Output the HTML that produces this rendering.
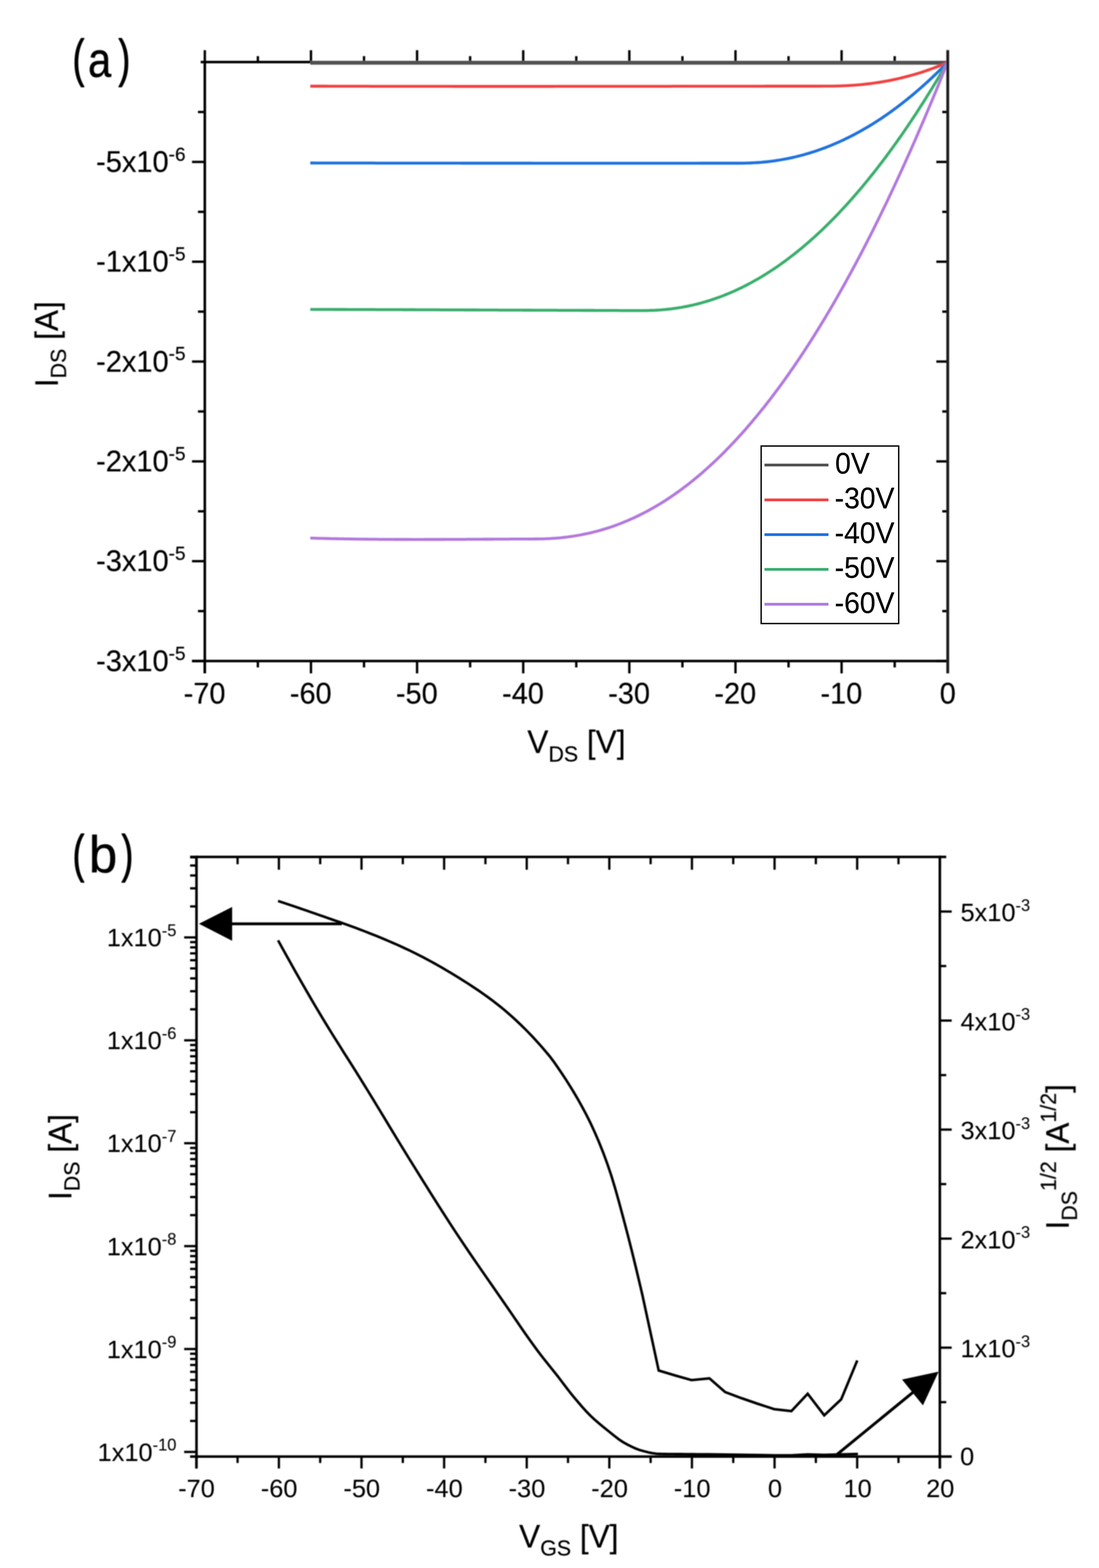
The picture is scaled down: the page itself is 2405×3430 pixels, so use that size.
<!DOCTYPE html>
<html lang="en">
<head>
<meta charset="utf-8">
<title>Output and transfer characteristics</title>
<style>
html,body{margin:0;padding:0;background:#fff;}
body{width:2405px;height:3430px;overflow:hidden;}
svg{display:block;font-family:"Liberation Sans", sans-serif;fill:#000;}
text{stroke:#000;stroke-width:0.4px;stroke-linejoin:round;}
.lt{stroke-width:0.15px;}
</style>
</head>
<body>
<svg width="2405" height="3430" viewBox="0 0 2405 3430">
<defs><filter id="soft" x="0" y="0" width="2405" height="3430" filterUnits="userSpaceOnUse"><feGaussianBlur stdDeviation="1.0"/></filter></defs>
<rect x="0" y="0" width="2405" height="3430" fill="#ffffff"/>
<g filter="url(#soft)">
<g id="plot-a">
<line x1="448.2" y1="133.0" x2="448.2" y2="1473.0" stroke="#000" stroke-width="5.6" stroke-linecap="butt"/>
<line x1="439.2" y1="135.8" x2="2076.8" y2="135.8" stroke="#000" stroke-width="5.6" stroke-linecap="butt"/>
<line x1="420.2" y1="1446.0" x2="2076.8" y2="1446.0" stroke="#000" stroke-width="5.6" stroke-linecap="butt"/>
<line x1="448.2" y1="1446.0" x2="448.2" y2="1473.0" stroke="#000" stroke-width="5.2" stroke-linecap="butt"/>
<line x1="448.2" y1="135.8" x2="448.2" y2="109.8" stroke="#000" stroke-width="5.2" stroke-linecap="butt"/>
<line x1="564.3" y1="1446.0" x2="564.3" y2="1460.0" stroke="#000" stroke-width="5.2" stroke-linecap="butt"/>
<line x1="564.3" y1="135.8" x2="564.3" y2="122.8" stroke="#000" stroke-width="5.2" stroke-linecap="butt"/>
<line x1="680.5" y1="1446.0" x2="680.5" y2="1473.0" stroke="#000" stroke-width="5.2" stroke-linecap="butt"/>
<line x1="680.5" y1="135.8" x2="680.5" y2="109.8" stroke="#000" stroke-width="5.2" stroke-linecap="butt"/>
<line x1="796.6" y1="1446.0" x2="796.6" y2="1460.0" stroke="#000" stroke-width="5.2" stroke-linecap="butt"/>
<line x1="796.6" y1="135.8" x2="796.6" y2="122.8" stroke="#000" stroke-width="5.2" stroke-linecap="butt"/>
<line x1="912.7" y1="1446.0" x2="912.7" y2="1473.0" stroke="#000" stroke-width="5.2" stroke-linecap="butt"/>
<line x1="912.7" y1="135.8" x2="912.7" y2="109.8" stroke="#000" stroke-width="5.2" stroke-linecap="butt"/>
<line x1="1028.8" y1="1446.0" x2="1028.8" y2="1460.0" stroke="#000" stroke-width="5.2" stroke-linecap="butt"/>
<line x1="1028.8" y1="135.8" x2="1028.8" y2="122.8" stroke="#000" stroke-width="5.2" stroke-linecap="butt"/>
<line x1="1145.0" y1="1446.0" x2="1145.0" y2="1473.0" stroke="#000" stroke-width="5.2" stroke-linecap="butt"/>
<line x1="1145.0" y1="135.8" x2="1145.0" y2="109.8" stroke="#000" stroke-width="5.2" stroke-linecap="butt"/>
<line x1="1261.1" y1="1446.0" x2="1261.1" y2="1460.0" stroke="#000" stroke-width="5.2" stroke-linecap="butt"/>
<line x1="1261.1" y1="135.8" x2="1261.1" y2="122.8" stroke="#000" stroke-width="5.2" stroke-linecap="butt"/>
<line x1="1377.2" y1="1446.0" x2="1377.2" y2="1473.0" stroke="#000" stroke-width="5.2" stroke-linecap="butt"/>
<line x1="1377.2" y1="135.8" x2="1377.2" y2="109.8" stroke="#000" stroke-width="5.2" stroke-linecap="butt"/>
<line x1="1493.4" y1="1446.0" x2="1493.4" y2="1460.0" stroke="#000" stroke-width="5.2" stroke-linecap="butt"/>
<line x1="1493.4" y1="135.8" x2="1493.4" y2="122.8" stroke="#000" stroke-width="5.2" stroke-linecap="butt"/>
<line x1="1609.5" y1="1446.0" x2="1609.5" y2="1473.0" stroke="#000" stroke-width="5.2" stroke-linecap="butt"/>
<line x1="1609.5" y1="135.8" x2="1609.5" y2="109.8" stroke="#000" stroke-width="5.2" stroke-linecap="butt"/>
<line x1="1725.6" y1="1446.0" x2="1725.6" y2="1460.0" stroke="#000" stroke-width="5.2" stroke-linecap="butt"/>
<line x1="1725.6" y1="135.8" x2="1725.6" y2="122.8" stroke="#000" stroke-width="5.2" stroke-linecap="butt"/>
<line x1="1841.7" y1="1446.0" x2="1841.7" y2="1473.0" stroke="#000" stroke-width="5.2" stroke-linecap="butt"/>
<line x1="1841.7" y1="135.8" x2="1841.7" y2="109.8" stroke="#000" stroke-width="5.2" stroke-linecap="butt"/>
<line x1="1957.9" y1="1446.0" x2="1957.9" y2="1460.0" stroke="#000" stroke-width="5.2" stroke-linecap="butt"/>
<line x1="1957.9" y1="135.8" x2="1957.9" y2="122.8" stroke="#000" stroke-width="5.2" stroke-linecap="butt"/>
<line x1="2074.0" y1="1446.0" x2="2074.0" y2="1473.0" stroke="#000" stroke-width="5.2" stroke-linecap="butt"/>
<line x1="2074.0" y1="135.8" x2="2074.0" y2="109.8" stroke="#000" stroke-width="5.2" stroke-linecap="butt"/>
<line x1="448.2" y1="245.0" x2="433.2" y2="245.0" stroke="#000" stroke-width="5.2" stroke-linecap="butt"/>
<line x1="2074.0" y1="245.0" x2="2062.0" y2="245.0" stroke="#000" stroke-width="5.2" stroke-linecap="butt"/>
<line x1="448.2" y1="354.2" x2="420.2" y2="354.2" stroke="#000" stroke-width="5.2" stroke-linecap="butt"/>
<line x1="2074.0" y1="354.2" x2="2049.0" y2="354.2" stroke="#000" stroke-width="5.2" stroke-linecap="butt"/>
<line x1="448.2" y1="463.4" x2="433.2" y2="463.4" stroke="#000" stroke-width="5.2" stroke-linecap="butt"/>
<line x1="2074.0" y1="463.4" x2="2062.0" y2="463.4" stroke="#000" stroke-width="5.2" stroke-linecap="butt"/>
<line x1="448.2" y1="572.5" x2="420.2" y2="572.5" stroke="#000" stroke-width="5.2" stroke-linecap="butt"/>
<line x1="2074.0" y1="572.5" x2="2049.0" y2="572.5" stroke="#000" stroke-width="5.2" stroke-linecap="butt"/>
<line x1="448.2" y1="681.7" x2="433.2" y2="681.7" stroke="#000" stroke-width="5.2" stroke-linecap="butt"/>
<line x1="2074.0" y1="681.7" x2="2062.0" y2="681.7" stroke="#000" stroke-width="5.2" stroke-linecap="butt"/>
<line x1="448.2" y1="790.9" x2="420.2" y2="790.9" stroke="#000" stroke-width="5.2" stroke-linecap="butt"/>
<line x1="2074.0" y1="790.9" x2="2049.0" y2="790.9" stroke="#000" stroke-width="5.2" stroke-linecap="butt"/>
<line x1="448.2" y1="900.1" x2="433.2" y2="900.1" stroke="#000" stroke-width="5.2" stroke-linecap="butt"/>
<line x1="2074.0" y1="900.1" x2="2062.0" y2="900.1" stroke="#000" stroke-width="5.2" stroke-linecap="butt"/>
<line x1="448.2" y1="1009.3" x2="420.2" y2="1009.3" stroke="#000" stroke-width="5.2" stroke-linecap="butt"/>
<line x1="2074.0" y1="1009.3" x2="2049.0" y2="1009.3" stroke="#000" stroke-width="5.2" stroke-linecap="butt"/>
<line x1="448.2" y1="1118.5" x2="433.2" y2="1118.5" stroke="#000" stroke-width="5.2" stroke-linecap="butt"/>
<line x1="2074.0" y1="1118.5" x2="2062.0" y2="1118.5" stroke="#000" stroke-width="5.2" stroke-linecap="butt"/>
<line x1="448.2" y1="1227.6" x2="420.2" y2="1227.6" stroke="#000" stroke-width="5.2" stroke-linecap="butt"/>
<line x1="2074.0" y1="1227.6" x2="2049.0" y2="1227.6" stroke="#000" stroke-width="5.2" stroke-linecap="butt"/>
<line x1="448.2" y1="1336.8" x2="433.2" y2="1336.8" stroke="#000" stroke-width="5.2" stroke-linecap="butt"/>
<line x1="2074.0" y1="1336.8" x2="2062.0" y2="1336.8" stroke="#000" stroke-width="5.2" stroke-linecap="butt"/>
<line x1="448.2" y1="1446.0" x2="420.2" y2="1446.0" stroke="#000" stroke-width="5.2" stroke-linecap="butt"/>
<line x1="2074.0" y1="1446.0" x2="2049.0" y2="1446.0" stroke="#000" stroke-width="5.2" stroke-linecap="butt"/>
<path d="M679.0,137.2 L2074.0,137.2" fill="none" stroke="#515151" stroke-width="8.4" stroke-linejoin="round" stroke-linecap="butt"/>
<path d="M679.0,188.5 L684.8,188.5 L690.7,188.5 L696.5,188.5 L702.3,188.5 L708.2,188.5 L714.0,188.5 L719.9,188.6 L725.7,188.6 L731.5,188.6 L737.4,188.6 L743.2,188.6 L749.0,188.6 L754.9,188.6 L760.7,188.7 L766.6,188.7 L772.4,188.7 L778.2,188.7 L784.1,188.7 L789.9,188.7 L795.7,188.7 L801.6,188.7 L807.4,188.7 L813.2,188.8 L819.1,188.8 L824.9,188.8 L830.8,188.8 L836.6,188.8 L842.4,188.8 L848.3,188.8 L854.1,188.8 L859.9,188.8 L865.8,188.8 L871.6,188.8 L877.5,188.8 L883.3,188.9 L889.1,188.9 L895.0,188.9 L900.8,188.9 L906.6,188.9 L912.5,188.9 L918.3,188.9 L924.1,188.9 L930.0,188.9 L935.8,188.9 L941.7,188.9 L947.5,188.9 L953.3,188.9 L959.2,188.9 L965.0,188.9 L970.8,188.9 L976.7,188.9 L982.5,188.9 L988.4,188.9 L994.2,189.0 L1000.0,189.0 L1005.9,189.0 L1011.7,189.0 L1017.5,189.0 L1023.4,189.0 L1029.2,189.0 L1035.0,189.0 L1040.9,189.0 L1046.7,189.0 L1052.6,189.0 L1058.4,189.0 L1064.2,189.0 L1070.1,189.0 L1075.9,189.0 L1081.7,189.0 L1087.6,189.0 L1093.4,189.0 L1099.3,189.0 L1105.1,189.0 L1110.9,189.0 L1116.8,189.0 L1122.6,189.0 L1128.4,189.0 L1134.3,189.0 L1140.1,189.0 L1145.9,189.0 L1151.8,189.0 L1157.6,189.0 L1163.5,189.0 L1169.3,189.0 L1175.1,189.0 L1181.0,189.0 L1186.8,189.0 L1192.6,189.0 L1198.5,189.0 L1204.3,189.0 L1210.2,189.0 L1216.0,188.9 L1221.8,188.9 L1227.7,188.9 L1233.5,188.9 L1239.3,188.9 L1245.2,188.9 L1251.0,188.9 L1256.8,188.9 L1262.7,188.9 L1268.5,188.9 L1274.4,188.9 L1280.2,188.9 L1286.0,188.9 L1291.9,188.9 L1297.7,188.9 L1303.5,188.9 L1309.4,188.9 L1315.2,188.9 L1321.1,188.9 L1326.9,188.9 L1332.7,188.9 L1338.6,188.9 L1344.4,188.9 L1350.2,188.9 L1356.1,188.9 L1361.9,188.8 L1367.7,188.8 L1373.6,188.8 L1379.4,188.8 L1385.3,188.8 L1391.1,188.8 L1396.9,188.8 L1402.8,188.8 L1408.6,188.8 L1414.4,188.8 L1420.3,188.8 L1426.1,188.8 L1431.9,188.8 L1437.8,188.8 L1443.6,188.8 L1449.5,188.8 L1455.3,188.8 L1461.1,188.8 L1467.0,188.8 L1472.8,188.7 L1478.6,188.7 L1484.5,188.7 L1490.3,188.7 L1496.2,188.7 L1502.0,188.7 L1507.8,188.7 L1513.7,188.7 L1519.5,188.7 L1525.3,188.7 L1531.2,188.7 L1537.0,188.7 L1542.8,188.7 L1548.7,188.7 L1554.5,188.7 L1560.4,188.7 L1566.2,188.7 L1572.0,188.6 L1577.9,188.6 L1583.7,188.6 L1589.5,188.6 L1595.4,188.6 L1601.2,188.6 L1607.1,188.6 L1612.9,188.6 L1618.7,188.6 L1624.6,188.6 L1630.4,188.6 L1636.2,188.6 L1642.1,188.6 L1647.9,188.6 L1653.7,188.6 L1659.6,188.6 L1665.4,188.6 L1671.3,188.6 L1677.1,188.5 L1682.9,188.5 L1688.8,188.5 L1694.6,188.5 L1700.4,188.5 L1706.3,188.5 L1712.1,188.5 L1718.0,188.5 L1723.8,188.5 L1729.6,188.5 L1735.5,188.5 L1741.3,188.5 L1747.1,188.5 L1753.0,188.5 L1758.8,188.5 L1764.6,188.5 L1770.5,188.5 L1776.3,188.5 L1782.2,188.5 L1788.0,188.5 L1793.8,188.5 L1799.7,188.4 L1805.5,188.4 L1811.3,188.4 L1817.2,188.4 L1823.0,188.3 L1828.9,188.2 L1834.7,188.1 L1840.5,187.9 L1846.4,187.6 L1852.2,187.4 L1858.0,187.1 L1863.9,186.7 L1869.7,186.3 L1875.5,185.8 L1881.4,185.3 L1887.2,184.8 L1893.1,184.2 L1898.9,183.5 L1904.7,182.8 L1910.6,182.0 L1916.4,181.2 L1922.2,180.3 L1928.1,179.4 L1933.9,178.4 L1939.8,177.4 L1945.6,176.3 L1951.4,175.1 L1957.3,173.9 L1963.1,172.6 L1968.9,171.3 L1974.8,169.9 L1980.6,168.4 L1986.4,166.9 L1992.3,165.3 L1998.1,163.7 L2004.0,162.0 L2009.8,160.2 L2015.6,158.4 L2021.5,156.5 L2027.3,154.5 L2033.1,152.5 L2039.0,150.4 L2044.8,148.3 L2050.7,146.0 L2056.5,143.8 L2062.3,141.4 L2068.2,139.0 L2074.0,136.5" fill="none" stroke="#F14040" stroke-width="6.3" stroke-linejoin="round" stroke-linecap="butt"/>
<path d="M679.0,356.5 L684.8,356.5 L690.7,356.6 L696.5,356.6 L702.3,356.6 L708.2,356.6 L714.0,356.6 L719.9,356.6 L725.7,356.6 L731.5,356.6 L737.4,356.6 L743.2,356.6 L749.0,356.6 L754.9,356.7 L760.7,356.7 L766.6,356.7 L772.4,356.7 L778.2,356.7 L784.1,356.7 L789.9,356.7 L795.7,356.7 L801.6,356.7 L807.4,356.7 L813.2,356.7 L819.1,356.7 L824.9,356.8 L830.8,356.8 L836.6,356.8 L842.4,356.8 L848.3,356.8 L854.1,356.8 L859.9,356.8 L865.8,356.8 L871.6,356.8 L877.5,356.8 L883.3,356.8 L889.1,356.8 L895.0,356.8 L900.8,356.8 L906.6,356.9 L912.5,356.9 L918.3,356.9 L924.1,356.9 L930.0,356.9 L935.8,356.9 L941.7,356.9 L947.5,356.9 L953.3,356.9 L959.2,356.9 L965.0,356.9 L970.8,356.9 L976.7,356.9 L982.5,356.9 L988.4,356.9 L994.2,356.9 L1000.0,356.9 L1005.9,356.9 L1011.7,357.0 L1017.5,357.0 L1023.4,357.0 L1029.2,357.0 L1035.0,357.0 L1040.9,357.0 L1046.7,357.0 L1052.6,357.0 L1058.4,357.0 L1064.2,357.0 L1070.1,357.0 L1075.9,357.0 L1081.7,357.0 L1087.6,357.0 L1093.4,357.0 L1099.3,357.0 L1105.1,357.0 L1110.9,357.0 L1116.8,357.0 L1122.6,357.0 L1128.4,357.0 L1134.3,357.0 L1140.1,357.0 L1145.9,357.0 L1151.8,357.0 L1157.6,357.0 L1163.5,357.0 L1169.3,357.1 L1175.1,357.1 L1181.0,357.1 L1186.8,357.1 L1192.6,357.1 L1198.5,357.1 L1204.3,357.1 L1210.2,357.1 L1216.0,357.1 L1221.8,357.1 L1227.7,357.1 L1233.5,357.1 L1239.3,357.1 L1245.2,357.1 L1251.0,357.1 L1256.8,357.1 L1262.7,357.1 L1268.5,357.1 L1274.4,357.1 L1280.2,357.1 L1286.0,357.1 L1291.9,357.1 L1297.7,357.1 L1303.5,357.1 L1309.4,357.1 L1315.2,357.1 L1321.1,357.1 L1326.9,357.1 L1332.7,357.1 L1338.6,357.1 L1344.4,357.1 L1350.2,357.1 L1356.1,357.1 L1361.9,357.1 L1367.7,357.1 L1373.6,357.1 L1379.4,357.1 L1385.3,357.1 L1391.1,357.1 L1396.9,357.1 L1402.8,357.1 L1408.6,357.1 L1414.4,357.1 L1420.3,357.1 L1426.1,357.1 L1431.9,357.1 L1437.8,357.1 L1443.6,357.1 L1449.5,357.1 L1455.3,357.1 L1461.1,357.1 L1467.0,357.1 L1472.8,357.1 L1478.6,357.1 L1484.5,357.1 L1490.3,357.1 L1496.2,357.1 L1502.0,357.1 L1507.8,357.1 L1513.7,357.1 L1519.5,357.1 L1525.3,357.1 L1531.2,357.0 L1537.0,357.0 L1542.8,357.0 L1548.7,357.0 L1554.5,357.0 L1560.4,357.0 L1566.2,357.0 L1572.0,357.0 L1577.9,357.0 L1583.7,357.0 L1589.5,357.0 L1595.4,357.0 L1601.2,357.0 L1607.1,357.0 L1612.9,357.0 L1618.7,357.0 L1624.6,357.0 L1630.4,356.9 L1636.2,356.7 L1642.1,356.5 L1647.9,356.2 L1653.7,355.9 L1659.6,355.5 L1665.4,355.1 L1671.3,354.5 L1677.1,354.0 L1682.9,353.3 L1688.8,352.6 L1694.6,351.8 L1700.4,350.9 L1706.3,350.0 L1712.1,349.0 L1718.0,347.9 L1723.8,346.8 L1729.6,345.6 L1735.5,344.3 L1741.3,343.0 L1747.1,341.5 L1753.0,340.0 L1758.8,338.5 L1764.6,336.8 L1770.5,335.1 L1776.3,333.3 L1782.2,331.4 L1788.0,329.5 L1793.8,327.4 L1799.7,325.3 L1805.5,323.2 L1811.3,320.9 L1817.2,318.6 L1823.0,316.2 L1828.9,313.7 L1834.7,311.1 L1840.5,308.5 L1846.4,305.8 L1852.2,302.9 L1858.0,300.1 L1863.9,297.1 L1869.7,294.1 L1875.5,291.0 L1881.4,287.8 L1887.2,284.5 L1893.1,281.1 L1898.9,277.7 L1904.7,274.2 L1910.6,270.6 L1916.4,266.9 L1922.2,263.1 L1928.1,259.3 L1933.9,255.3 L1939.8,251.3 L1945.6,247.2 L1951.4,243.1 L1957.3,238.8 L1963.1,234.5 L1968.9,230.0 L1974.8,225.5 L1980.6,220.9 L1986.4,216.3 L1992.3,211.5 L1998.1,206.7 L2004.0,201.7 L2009.8,196.7 L2015.6,191.6 L2021.5,186.5 L2027.3,181.2 L2033.1,175.9 L2039.0,170.4 L2044.8,164.9 L2050.7,159.3 L2056.5,153.6 L2062.3,147.8 L2068.2,142.0 L2074.0,136.5" fill="none" stroke="#1A6FDF" stroke-width="6.3" stroke-linejoin="round" stroke-linecap="butt"/>
<path d="M679.0,676.8 L684.8,676.8 L690.7,676.9 L696.5,676.9 L702.3,676.9 L708.2,676.9 L714.0,676.9 L719.9,676.9 L725.7,676.9 L731.5,677.0 L737.4,677.0 L743.2,677.0 L749.0,677.0 L754.9,677.0 L760.7,677.1 L766.6,677.1 L772.4,677.1 L778.2,677.1 L784.1,677.1 L789.9,677.1 L795.7,677.2 L801.6,677.2 L807.4,677.2 L813.2,677.2 L819.1,677.2 L824.9,677.3 L830.8,677.3 L836.6,677.3 L842.4,677.3 L848.3,677.3 L854.1,677.4 L859.9,677.4 L865.8,677.4 L871.6,677.4 L877.5,677.4 L883.3,677.5 L889.1,677.5 L895.0,677.5 L900.8,677.5 L906.6,677.5 L912.5,677.6 L918.3,677.6 L924.1,677.6 L930.0,677.6 L935.8,677.6 L941.7,677.7 L947.5,677.7 L953.3,677.7 L959.2,677.7 L965.0,677.8 L970.8,677.8 L976.7,677.8 L982.5,677.8 L988.4,677.8 L994.2,677.9 L1000.0,677.9 L1005.9,677.9 L1011.7,677.9 L1017.5,678.0 L1023.4,678.0 L1029.2,678.0 L1035.0,678.0 L1040.9,678.0 L1046.7,678.1 L1052.6,678.1 L1058.4,678.1 L1064.2,678.1 L1070.1,678.2 L1075.9,678.2 L1081.7,678.2 L1087.6,678.2 L1093.4,678.3 L1099.3,678.3 L1105.1,678.3 L1110.9,678.3 L1116.8,678.3 L1122.6,678.4 L1128.4,678.4 L1134.3,678.4 L1140.1,678.4 L1145.9,678.5 L1151.8,678.5 L1157.6,678.5 L1163.5,678.5 L1169.3,678.6 L1175.1,678.6 L1181.0,678.6 L1186.8,678.6 L1192.6,678.6 L1198.5,678.7 L1204.3,678.7 L1210.2,678.7 L1216.0,678.7 L1221.8,678.8 L1227.7,678.8 L1233.5,678.8 L1239.3,678.8 L1245.2,678.8 L1251.0,678.9 L1256.8,678.9 L1262.7,678.9 L1268.5,678.9 L1274.4,679.0 L1280.2,679.0 L1286.0,679.0 L1291.9,679.0 L1297.7,679.0 L1303.5,679.1 L1309.4,679.1 L1315.2,679.1 L1321.1,679.1 L1326.9,679.2 L1332.7,679.2 L1338.6,679.2 L1344.4,679.2 L1350.2,679.2 L1356.1,679.3 L1361.9,679.3 L1367.7,679.3 L1373.6,679.3 L1379.4,679.3 L1385.3,679.4 L1391.1,679.4 L1396.9,679.4 L1402.8,679.4 L1408.6,679.4 L1414.4,679.3 L1420.3,679.2 L1426.1,679.0 L1431.9,678.8 L1437.8,678.5 L1443.6,678.1 L1449.5,677.6 L1455.3,677.1 L1461.1,676.5 L1467.0,675.9 L1472.8,675.1 L1478.6,674.3 L1484.5,673.4 L1490.3,672.5 L1496.2,671.4 L1502.0,670.3 L1507.8,669.1 L1513.7,667.8 L1519.5,666.5 L1525.3,665.1 L1531.2,663.6 L1537.0,662.0 L1542.8,660.3 L1548.7,658.6 L1554.5,656.7 L1560.4,654.8 L1566.2,652.8 L1572.0,650.8 L1577.9,648.6 L1583.7,646.4 L1589.5,644.0 L1595.4,641.6 L1601.2,639.1 L1607.1,636.6 L1612.9,633.9 L1618.7,631.1 L1624.6,628.3 L1630.4,625.4 L1636.2,622.4 L1642.1,619.3 L1647.9,616.1 L1653.7,612.8 L1659.6,609.5 L1665.4,606.1 L1671.3,602.5 L1677.1,598.9 L1682.9,595.2 L1688.8,591.4 L1694.6,587.5 L1700.4,583.6 L1706.3,579.5 L1712.1,575.3 L1718.0,571.1 L1723.8,566.8 L1729.6,562.3 L1735.5,557.8 L1741.3,553.2 L1747.1,548.5 L1753.0,543.8 L1758.8,538.9 L1764.6,533.9 L1770.5,528.9 L1776.3,523.7 L1782.2,518.5 L1788.0,513.1 L1793.8,507.7 L1799.7,502.2 L1805.5,496.6 L1811.3,490.9 L1817.2,485.1 L1823.0,479.2 L1828.9,473.2 L1834.7,467.1 L1840.5,460.9 L1846.4,454.7 L1852.2,448.3 L1858.0,441.9 L1863.9,435.3 L1869.7,428.7 L1875.5,421.9 L1881.4,415.1 L1887.2,408.2 L1893.1,401.1 L1898.9,394.0 L1904.7,386.8 L1910.6,379.5 L1916.4,372.1 L1922.2,364.6 L1928.1,357.0 L1933.9,349.3 L1939.8,341.5 L1945.6,333.6 L1951.4,325.6 L1957.3,317.5 L1963.1,309.4 L1968.9,301.1 L1974.8,292.7 L1980.6,284.2 L1986.4,275.7 L1992.3,267.0 L1998.1,258.2 L2004.0,249.4 L2009.8,240.4 L2015.6,231.3 L2021.5,222.2 L2027.3,212.9 L2033.1,203.6 L2039.0,194.1 L2044.8,184.6 L2050.7,174.9 L2056.5,165.2 L2062.3,155.3 L2068.2,145.4 L2074.0,136.5" fill="none" stroke="#37AD6B" stroke-width="6.3" stroke-linejoin="round" stroke-linecap="butt"/>
<path d="M679.0,1177.1 L684.8,1177.2 L690.7,1177.4 L696.5,1177.6 L702.3,1177.7 L708.2,1177.9 L714.0,1178.0 L719.9,1178.1 L725.7,1178.3 L731.5,1178.4 L737.4,1178.5 L743.2,1178.6 L749.0,1178.7 L754.9,1178.8 L760.7,1178.9 L766.6,1179.0 L772.4,1179.1 L778.2,1179.2 L784.1,1179.3 L789.9,1179.4 L795.7,1179.4 L801.6,1179.5 L807.4,1179.6 L813.2,1179.6 L819.1,1179.7 L824.9,1179.7 L830.8,1179.8 L836.6,1179.8 L842.4,1179.8 L848.3,1179.9 L854.1,1179.9 L859.9,1179.9 L865.8,1180.0 L871.6,1180.0 L877.5,1180.0 L883.3,1180.0 L889.1,1180.0 L895.0,1180.0 L900.8,1180.1 L906.6,1180.1 L912.5,1180.1 L918.3,1180.1 L924.1,1180.1 L930.0,1180.0 L935.8,1180.0 L941.7,1180.0 L947.5,1180.0 L953.3,1180.0 L959.2,1180.0 L965.0,1180.0 L970.8,1180.0 L976.7,1179.9 L982.5,1179.9 L988.4,1179.9 L994.2,1179.9 L1000.0,1179.8 L1005.9,1179.8 L1011.7,1179.8 L1017.5,1179.8 L1023.4,1179.7 L1029.2,1179.7 L1035.0,1179.7 L1040.9,1179.6 L1046.7,1179.6 L1052.6,1179.6 L1058.4,1179.5 L1064.2,1179.5 L1070.1,1179.5 L1075.9,1179.5 L1081.7,1179.4 L1087.6,1179.4 L1093.4,1179.4 L1099.3,1179.3 L1105.1,1179.3 L1110.9,1179.3 L1116.8,1179.2 L1122.6,1179.2 L1128.4,1179.2 L1134.3,1179.2 L1140.1,1179.1 L1145.9,1179.1 L1151.8,1179.1 L1157.6,1179.1 L1163.5,1179.1 L1169.3,1179.0 L1175.1,1179.0 L1181.0,1178.9 L1186.8,1178.8 L1192.6,1178.6 L1198.5,1178.4 L1204.3,1178.1 L1210.2,1177.7 L1216.0,1177.3 L1221.8,1176.8 L1227.7,1176.3 L1233.5,1175.6 L1239.3,1175.0 L1245.2,1174.2 L1251.0,1173.4 L1256.8,1172.5 L1262.7,1171.5 L1268.5,1170.5 L1274.4,1169.4 L1280.2,1168.2 L1286.0,1167.0 L1291.9,1165.7 L1297.7,1164.3 L1303.5,1162.8 L1309.4,1161.2 L1315.2,1159.6 L1321.1,1157.9 L1326.9,1156.1 L1332.7,1154.2 L1338.6,1152.2 L1344.4,1150.2 L1350.2,1148.1 L1356.1,1145.9 L1361.9,1143.6 L1367.7,1141.2 L1373.6,1138.8 L1379.4,1136.2 L1385.3,1133.6 L1391.1,1130.9 L1396.9,1128.1 L1402.8,1125.2 L1408.6,1122.3 L1414.4,1119.2 L1420.3,1116.1 L1426.1,1112.8 L1431.9,1109.5 L1437.8,1106.1 L1443.6,1102.6 L1449.5,1099.0 L1455.3,1095.3 L1461.1,1091.5 L1467.0,1087.6 L1472.8,1083.7 L1478.6,1079.6 L1484.5,1075.4 L1490.3,1071.2 L1496.2,1066.8 L1502.0,1062.4 L1507.8,1057.9 L1513.7,1053.3 L1519.5,1048.5 L1525.3,1043.7 L1531.2,1038.8 L1537.0,1033.8 L1542.8,1028.7 L1548.7,1023.5 L1554.5,1018.2 L1560.4,1012.8 L1566.2,1007.3 L1572.0,1001.7 L1577.9,996.0 L1583.7,990.2 L1589.5,984.3 L1595.4,978.3 L1601.2,972.2 L1607.1,966.0 L1612.9,959.7 L1618.7,953.4 L1624.6,946.9 L1630.4,940.3 L1636.2,933.6 L1642.1,926.8 L1647.9,919.9 L1653.7,912.9 L1659.6,905.8 L1665.4,898.6 L1671.3,891.4 L1677.1,884.0 L1682.9,876.5 L1688.8,868.9 L1694.6,861.2 L1700.4,853.4 L1706.3,845.5 L1712.1,837.5 L1718.0,829.4 L1723.8,821.1 L1729.6,812.8 L1735.5,804.4 L1741.3,795.9 L1747.1,787.3 L1753.0,778.5 L1758.8,769.7 L1764.6,760.8 L1770.5,751.7 L1776.3,742.6 L1782.2,733.3 L1788.0,724.0 L1793.8,714.5 L1799.7,704.9 L1805.5,695.3 L1811.3,685.5 L1817.2,675.6 L1823.0,665.6 L1828.9,655.5 L1834.7,645.3 L1840.5,635.0 L1846.4,624.6 L1852.2,614.1 L1858.0,603.5 L1863.9,592.8 L1869.7,581.9 L1875.5,571.0 L1881.4,559.9 L1887.2,548.8 L1893.1,537.5 L1898.9,526.1 L1904.7,514.7 L1910.6,503.1 L1916.4,491.4 L1922.2,479.6 L1928.1,467.7 L1933.9,455.7 L1939.8,443.6 L1945.6,431.3 L1951.4,419.0 L1957.3,406.5 L1963.1,394.0 L1968.9,381.3 L1974.8,368.6 L1980.6,355.7 L1986.4,342.7 L1992.3,329.7 L1998.1,316.5 L2004.0,303.2 L2009.8,289.8 L2015.6,276.3 L2021.5,262.7 L2027.3,249.0 L2033.1,235.1 L2039.0,221.2 L2044.8,207.2 L2050.7,193.0 L2056.5,178.8 L2062.3,164.4 L2068.2,150.0 L2074.0,136.5" fill="none" stroke="#B177DE" stroke-width="6.3" stroke-linejoin="round" stroke-linecap="butt"/>
<line x1="2074.0" y1="109.8" x2="2074.0" y2="1473.0" stroke="#1c1c1c" stroke-width="6.2" stroke-linecap="butt"/>
<text transform="translate(406.0,376.0) scale(1.0,1.01)" font-size="63.5" text-anchor="end" >-5x10<tspan font-size="41.5" dy="-24.0">-6</tspan></text>
<text transform="translate(406.0,594.3) scale(1.0,1.01)" font-size="63.5" text-anchor="end" >-1x10<tspan font-size="41.5" dy="-24.0">-5</tspan></text>
<text transform="translate(406.0,812.7) scale(1.0,1.01)" font-size="63.5" text-anchor="end" >-2x10<tspan font-size="41.5" dy="-24.0">-5</tspan></text>
<text transform="translate(406.0,1031.1) scale(1.0,1.01)" font-size="63.5" text-anchor="end" >-2x10<tspan font-size="41.5" dy="-24.0">-5</tspan></text>
<text transform="translate(406.0,1249.4) scale(1.0,1.01)" font-size="63.5" text-anchor="end" >-3x10<tspan font-size="41.5" dy="-24.0">-5</tspan></text>
<text transform="translate(406.0,1467.8) scale(1.0,1.01)" font-size="63.5" text-anchor="end" >-3x10<tspan font-size="41.5" dy="-24.0">-5</tspan></text>
<text transform="translate(447.7,1539.3) scale(0.995,1.02)" font-size="63.5" text-anchor="middle" >-70</text>
<text transform="translate(680.0,1539.3) scale(0.995,1.02)" font-size="63.5" text-anchor="middle" >-60</text>
<text transform="translate(912.2,1539.3) scale(0.995,1.02)" font-size="63.5" text-anchor="middle" >-50</text>
<text transform="translate(1144.5,1539.3) scale(0.995,1.02)" font-size="63.5" text-anchor="middle" >-40</text>
<text transform="translate(1376.7,1539.3) scale(0.995,1.02)" font-size="63.5" text-anchor="middle" >-30</text>
<text transform="translate(1609.0,1539.3) scale(0.995,1.02)" font-size="63.5" text-anchor="middle" >-20</text>
<text transform="translate(1841.2,1539.3) scale(0.995,1.02)" font-size="63.5" text-anchor="middle" >-10</text>
<text transform="translate(2074.0,1539.3) scale(0.995,1.02)" font-size="63.5" text-anchor="middle" >0</text>
<text transform="translate(1154.0,1647.5) scale(1.017,1.03)" font-size="68" text-anchor="start" >V<tspan font-size="46" dy="17.5">DS</tspan><tspan font-size="68" dy="-17.5"> [V]</tspan></text>
<text transform="translate(126.0,847.0) rotate(-90) scale(1.017,1.04)" font-size="68" text-anchor="start" >I<tspan font-size="46" dy="17.5">DS</tspan><tspan font-size="68" dy="-17.5"> [A]</tspan></text>
<text transform="translate(159.0,166.3) scale(0.68,1.0)" font-size="113" text-anchor="start" style="stroke-width:2.2px">(</text>
<text transform="translate(192.8,168.3) scale(0.955,0.925)" font-size="116" text-anchor="start" textLength="53" lengthAdjust="spacingAndGlyphs" style="stroke-width:1px">a</text>
<text transform="translate(259.3,166.3) scale(0.68,1.0)" font-size="113" text-anchor="start" style="stroke-width:2.2px">)</text>
</g>
<g id="plot-b">
<line x1="430.0" y1="1871.7" x2="430.0" y2="3212.3" stroke="#000" stroke-width="5.6" stroke-linecap="butt"/>
<line x1="416.0" y1="1874.5" x2="2070.7" y2="1874.5" stroke="#000" stroke-width="5.6" stroke-linecap="butt"/>
<line x1="416.0" y1="3186.3" x2="2082.7" y2="3186.3" stroke="#000" stroke-width="5.6" stroke-linecap="butt"/>
<line x1="2056.7" y1="1871.7" x2="2056.7" y2="3212.3" stroke="#000" stroke-width="5.6" stroke-linecap="butt"/>
<line x1="429.5" y1="3186.3" x2="429.5" y2="3212.3" stroke="#000" stroke-width="5.0" stroke-linecap="butt"/>
<line x1="429.5" y1="1874.5" x2="429.5" y2="1902.5" stroke="#000" stroke-width="5.0" stroke-linecap="butt"/>
<line x1="519.9" y1="3186.3" x2="519.9" y2="3200.3" stroke="#000" stroke-width="5.0" stroke-linecap="butt"/>
<line x1="519.9" y1="1874.5" x2="519.9" y2="1890.5" stroke="#000" stroke-width="5.0" stroke-linecap="butt"/>
<line x1="610.3" y1="3186.3" x2="610.3" y2="3212.3" stroke="#000" stroke-width="5.0" stroke-linecap="butt"/>
<line x1="610.3" y1="1874.5" x2="610.3" y2="1902.5" stroke="#000" stroke-width="5.0" stroke-linecap="butt"/>
<line x1="700.7" y1="3186.3" x2="700.7" y2="3200.3" stroke="#000" stroke-width="5.0" stroke-linecap="butt"/>
<line x1="700.7" y1="1874.5" x2="700.7" y2="1890.5" stroke="#000" stroke-width="5.0" stroke-linecap="butt"/>
<line x1="791.1" y1="3186.3" x2="791.1" y2="3212.3" stroke="#000" stroke-width="5.0" stroke-linecap="butt"/>
<line x1="791.1" y1="1874.5" x2="791.1" y2="1902.5" stroke="#000" stroke-width="5.0" stroke-linecap="butt"/>
<line x1="881.5" y1="3186.3" x2="881.5" y2="3200.3" stroke="#000" stroke-width="5.0" stroke-linecap="butt"/>
<line x1="881.5" y1="1874.5" x2="881.5" y2="1890.5" stroke="#000" stroke-width="5.0" stroke-linecap="butt"/>
<line x1="971.9" y1="3186.3" x2="971.9" y2="3212.3" stroke="#000" stroke-width="5.0" stroke-linecap="butt"/>
<line x1="971.9" y1="1874.5" x2="971.9" y2="1902.5" stroke="#000" stroke-width="5.0" stroke-linecap="butt"/>
<line x1="1062.3" y1="3186.3" x2="1062.3" y2="3200.3" stroke="#000" stroke-width="5.0" stroke-linecap="butt"/>
<line x1="1062.3" y1="1874.5" x2="1062.3" y2="1890.5" stroke="#000" stroke-width="5.0" stroke-linecap="butt"/>
<line x1="1152.7" y1="3186.3" x2="1152.7" y2="3212.3" stroke="#000" stroke-width="5.0" stroke-linecap="butt"/>
<line x1="1152.7" y1="1874.5" x2="1152.7" y2="1902.5" stroke="#000" stroke-width="5.0" stroke-linecap="butt"/>
<line x1="1243.0" y1="3186.3" x2="1243.0" y2="3200.3" stroke="#000" stroke-width="5.0" stroke-linecap="butt"/>
<line x1="1243.0" y1="1874.5" x2="1243.0" y2="1890.5" stroke="#000" stroke-width="5.0" stroke-linecap="butt"/>
<line x1="1333.4" y1="3186.3" x2="1333.4" y2="3212.3" stroke="#000" stroke-width="5.0" stroke-linecap="butt"/>
<line x1="1333.4" y1="1874.5" x2="1333.4" y2="1902.5" stroke="#000" stroke-width="5.0" stroke-linecap="butt"/>
<line x1="1423.8" y1="3186.3" x2="1423.8" y2="3200.3" stroke="#000" stroke-width="5.0" stroke-linecap="butt"/>
<line x1="1423.8" y1="1874.5" x2="1423.8" y2="1890.5" stroke="#000" stroke-width="5.0" stroke-linecap="butt"/>
<line x1="1514.2" y1="3186.3" x2="1514.2" y2="3212.3" stroke="#000" stroke-width="5.0" stroke-linecap="butt"/>
<line x1="1514.2" y1="1874.5" x2="1514.2" y2="1902.5" stroke="#000" stroke-width="5.0" stroke-linecap="butt"/>
<line x1="1604.6" y1="3186.3" x2="1604.6" y2="3200.3" stroke="#000" stroke-width="5.0" stroke-linecap="butt"/>
<line x1="1604.6" y1="1874.5" x2="1604.6" y2="1890.5" stroke="#000" stroke-width="5.0" stroke-linecap="butt"/>
<line x1="1695.0" y1="3186.3" x2="1695.0" y2="3212.3" stroke="#000" stroke-width="5.0" stroke-linecap="butt"/>
<line x1="1695.0" y1="1874.5" x2="1695.0" y2="1902.5" stroke="#000" stroke-width="5.0" stroke-linecap="butt"/>
<line x1="1785.4" y1="3186.3" x2="1785.4" y2="3200.3" stroke="#000" stroke-width="5.0" stroke-linecap="butt"/>
<line x1="1785.4" y1="1874.5" x2="1785.4" y2="1890.5" stroke="#000" stroke-width="5.0" stroke-linecap="butt"/>
<line x1="1875.8" y1="3186.3" x2="1875.8" y2="3212.3" stroke="#000" stroke-width="5.0" stroke-linecap="butt"/>
<line x1="1875.8" y1="1874.5" x2="1875.8" y2="1902.5" stroke="#000" stroke-width="5.0" stroke-linecap="butt"/>
<line x1="1966.2" y1="3186.3" x2="1966.2" y2="3200.3" stroke="#000" stroke-width="5.0" stroke-linecap="butt"/>
<line x1="1966.2" y1="1874.5" x2="1966.2" y2="1890.5" stroke="#000" stroke-width="5.0" stroke-linecap="butt"/>
<line x1="2056.6" y1="3186.3" x2="2056.6" y2="3212.3" stroke="#000" stroke-width="5.0" stroke-linecap="butt"/>
<line x1="2056.6" y1="1874.5" x2="2056.6" y2="1902.5" stroke="#000" stroke-width="5.0" stroke-linecap="butt"/>
<line x1="430.0" y1="3176.1" x2="403.0" y2="3176.1" stroke="#000" stroke-width="5.0" stroke-linecap="butt"/>
<line x1="430.0" y1="3108.3" x2="416.0" y2="3108.3" stroke="#000" stroke-width="5.0" stroke-linecap="butt"/>
<line x1="430.0" y1="3068.7" x2="416.0" y2="3068.7" stroke="#000" stroke-width="5.0" stroke-linecap="butt"/>
<line x1="430.0" y1="3040.6" x2="416.0" y2="3040.6" stroke="#000" stroke-width="5.0" stroke-linecap="butt"/>
<line x1="430.0" y1="3018.8" x2="416.0" y2="3018.8" stroke="#000" stroke-width="5.0" stroke-linecap="butt"/>
<line x1="430.0" y1="3000.9" x2="416.0" y2="3000.9" stroke="#000" stroke-width="5.0" stroke-linecap="butt"/>
<line x1="430.0" y1="2985.9" x2="416.0" y2="2985.9" stroke="#000" stroke-width="5.0" stroke-linecap="butt"/>
<line x1="430.0" y1="2972.8" x2="416.0" y2="2972.8" stroke="#000" stroke-width="5.0" stroke-linecap="butt"/>
<line x1="430.0" y1="2961.3" x2="416.0" y2="2961.3" stroke="#000" stroke-width="5.0" stroke-linecap="butt"/>
<line x1="430.0" y1="2951.0" x2="403.0" y2="2951.0" stroke="#000" stroke-width="5.0" stroke-linecap="butt"/>
<line x1="430.0" y1="2883.2" x2="416.0" y2="2883.2" stroke="#000" stroke-width="5.0" stroke-linecap="butt"/>
<line x1="430.0" y1="2843.6" x2="416.0" y2="2843.6" stroke="#000" stroke-width="5.0" stroke-linecap="butt"/>
<line x1="430.0" y1="2815.5" x2="416.0" y2="2815.5" stroke="#000" stroke-width="5.0" stroke-linecap="butt"/>
<line x1="430.0" y1="2793.7" x2="416.0" y2="2793.7" stroke="#000" stroke-width="5.0" stroke-linecap="butt"/>
<line x1="430.0" y1="2775.8" x2="416.0" y2="2775.8" stroke="#000" stroke-width="5.0" stroke-linecap="butt"/>
<line x1="430.0" y1="2760.8" x2="416.0" y2="2760.8" stroke="#000" stroke-width="5.0" stroke-linecap="butt"/>
<line x1="430.0" y1="2747.7" x2="416.0" y2="2747.7" stroke="#000" stroke-width="5.0" stroke-linecap="butt"/>
<line x1="430.0" y1="2736.2" x2="416.0" y2="2736.2" stroke="#000" stroke-width="5.0" stroke-linecap="butt"/>
<line x1="430.0" y1="2725.9" x2="403.0" y2="2725.9" stroke="#000" stroke-width="5.0" stroke-linecap="butt"/>
<line x1="430.0" y1="2658.1" x2="416.0" y2="2658.1" stroke="#000" stroke-width="5.0" stroke-linecap="butt"/>
<line x1="430.0" y1="2618.5" x2="416.0" y2="2618.5" stroke="#000" stroke-width="5.0" stroke-linecap="butt"/>
<line x1="430.0" y1="2590.4" x2="416.0" y2="2590.4" stroke="#000" stroke-width="5.0" stroke-linecap="butt"/>
<line x1="430.0" y1="2568.6" x2="416.0" y2="2568.6" stroke="#000" stroke-width="5.0" stroke-linecap="butt"/>
<line x1="430.0" y1="2550.7" x2="416.0" y2="2550.7" stroke="#000" stroke-width="5.0" stroke-linecap="butt"/>
<line x1="430.0" y1="2535.7" x2="416.0" y2="2535.7" stroke="#000" stroke-width="5.0" stroke-linecap="butt"/>
<line x1="430.0" y1="2522.6" x2="416.0" y2="2522.6" stroke="#000" stroke-width="5.0" stroke-linecap="butt"/>
<line x1="430.0" y1="2511.1" x2="416.0" y2="2511.1" stroke="#000" stroke-width="5.0" stroke-linecap="butt"/>
<line x1="430.0" y1="2500.8" x2="403.0" y2="2500.8" stroke="#000" stroke-width="5.0" stroke-linecap="butt"/>
<line x1="430.0" y1="2433.0" x2="416.0" y2="2433.0" stroke="#000" stroke-width="5.0" stroke-linecap="butt"/>
<line x1="430.0" y1="2393.4" x2="416.0" y2="2393.4" stroke="#000" stroke-width="5.0" stroke-linecap="butt"/>
<line x1="430.0" y1="2365.3" x2="416.0" y2="2365.3" stroke="#000" stroke-width="5.0" stroke-linecap="butt"/>
<line x1="430.0" y1="2343.5" x2="416.0" y2="2343.5" stroke="#000" stroke-width="5.0" stroke-linecap="butt"/>
<line x1="430.0" y1="2325.6" x2="416.0" y2="2325.6" stroke="#000" stroke-width="5.0" stroke-linecap="butt"/>
<line x1="430.0" y1="2310.6" x2="416.0" y2="2310.6" stroke="#000" stroke-width="5.0" stroke-linecap="butt"/>
<line x1="430.0" y1="2297.5" x2="416.0" y2="2297.5" stroke="#000" stroke-width="5.0" stroke-linecap="butt"/>
<line x1="430.0" y1="2286.0" x2="416.0" y2="2286.0" stroke="#000" stroke-width="5.0" stroke-linecap="butt"/>
<line x1="430.0" y1="2275.7" x2="403.0" y2="2275.7" stroke="#000" stroke-width="5.0" stroke-linecap="butt"/>
<line x1="430.0" y1="2207.9" x2="416.0" y2="2207.9" stroke="#000" stroke-width="5.0" stroke-linecap="butt"/>
<line x1="430.0" y1="2168.3" x2="416.0" y2="2168.3" stroke="#000" stroke-width="5.0" stroke-linecap="butt"/>
<line x1="430.0" y1="2140.2" x2="416.0" y2="2140.2" stroke="#000" stroke-width="5.0" stroke-linecap="butt"/>
<line x1="430.0" y1="2118.4" x2="416.0" y2="2118.4" stroke="#000" stroke-width="5.0" stroke-linecap="butt"/>
<line x1="430.0" y1="2100.5" x2="416.0" y2="2100.5" stroke="#000" stroke-width="5.0" stroke-linecap="butt"/>
<line x1="430.0" y1="2085.5" x2="416.0" y2="2085.5" stroke="#000" stroke-width="5.0" stroke-linecap="butt"/>
<line x1="430.0" y1="2072.4" x2="416.0" y2="2072.4" stroke="#000" stroke-width="5.0" stroke-linecap="butt"/>
<line x1="430.0" y1="2060.9" x2="416.0" y2="2060.9" stroke="#000" stroke-width="5.0" stroke-linecap="butt"/>
<line x1="430.0" y1="2050.6" x2="403.0" y2="2050.6" stroke="#000" stroke-width="5.0" stroke-linecap="butt"/>
<line x1="430.0" y1="1982.8" x2="416.0" y2="1982.8" stroke="#000" stroke-width="5.0" stroke-linecap="butt"/>
<line x1="430.0" y1="1943.2" x2="416.0" y2="1943.2" stroke="#000" stroke-width="5.0" stroke-linecap="butt"/>
<line x1="430.0" y1="1915.1" x2="416.0" y2="1915.1" stroke="#000" stroke-width="5.0" stroke-linecap="butt"/>
<line x1="430.0" y1="1893.3" x2="416.0" y2="1893.3" stroke="#000" stroke-width="5.0" stroke-linecap="butt"/>
<line x1="430.0" y1="1875.4" x2="416.0" y2="1875.4" stroke="#000" stroke-width="5.0" stroke-linecap="butt"/>
<line x1="2056.7" y1="3067.2" x2="2070.7" y2="3067.2" stroke="#000" stroke-width="5.0" stroke-linecap="butt"/>
<line x1="2056.7" y1="2948.0" x2="2082.7" y2="2948.0" stroke="#000" stroke-width="5.0" stroke-linecap="butt"/>
<line x1="2056.7" y1="2828.8" x2="2070.7" y2="2828.8" stroke="#000" stroke-width="5.0" stroke-linecap="butt"/>
<line x1="2056.7" y1="2709.5" x2="2082.7" y2="2709.5" stroke="#000" stroke-width="5.0" stroke-linecap="butt"/>
<line x1="2056.7" y1="2590.2" x2="2070.7" y2="2590.2" stroke="#000" stroke-width="5.0" stroke-linecap="butt"/>
<line x1="2056.7" y1="2471.0" x2="2082.7" y2="2471.0" stroke="#000" stroke-width="5.0" stroke-linecap="butt"/>
<line x1="2056.7" y1="2351.8" x2="2070.7" y2="2351.8" stroke="#000" stroke-width="5.0" stroke-linecap="butt"/>
<line x1="2056.7" y1="2232.5" x2="2082.7" y2="2232.5" stroke="#000" stroke-width="5.0" stroke-linecap="butt"/>
<line x1="2056.7" y1="2113.2" x2="2070.7" y2="2113.2" stroke="#000" stroke-width="5.0" stroke-linecap="butt"/>
<line x1="2056.7" y1="1994.0" x2="2082.7" y2="1994.0" stroke="#000" stroke-width="5.0" stroke-linecap="butt"/>
<path d="M608.5,1970.8 L617.5,1973.8 L626.5,1976.8 L635.5,1979.9 L644.5,1982.9 L653.5,1986.0 L662.5,1989.1 L671.5,1992.2 L680.5,1995.3 L689.5,1998.4 L698.5,2001.6 L707.5,2004.7 L716.5,2007.8 L725.5,2011.0 L734.5,2014.1 L743.5,2017.2 L752.5,2020.4 L761.5,2023.6 L770.5,2026.9 L779.5,2030.2 L788.5,2033.6 L797.5,2037.0 L806.5,2040.6 L815.5,2044.1 L824.5,2047.7 L833.5,2051.4 L842.5,2055.2 L851.5,2059.0 L860.5,2062.9 L869.5,2066.8 L878.5,2070.9 L887.5,2075.1 L896.5,2079.3 L905.5,2083.7 L914.5,2088.2 L923.5,2092.8 L932.5,2097.5 L941.5,2102.4 L950.5,2107.3 L959.5,2112.4 L968.5,2117.5 L977.5,2122.8 L986.5,2128.2 L995.5,2133.6 L1004.5,2139.2 L1013.5,2144.8 L1022.5,2150.5 L1031.5,2156.4 L1040.5,2162.3 L1049.5,2168.4 L1058.5,2174.7 L1067.5,2181.1 L1076.5,2187.8 L1085.5,2194.7 L1094.5,2201.8 L1103.5,2209.2 L1112.5,2216.9 L1121.5,2224.8 L1130.5,2233.1 L1139.5,2241.6 L1148.5,2250.4 L1157.5,2259.6 L1166.5,2269.0 L1175.5,2278.8 L1184.5,2288.9 L1193.5,2299.3 L1202.5,2310.1 L1211.5,2322.0 L1220.5,2334.9 L1229.5,2348.1 L1238.5,2361.8 L1247.5,2375.9 L1256.5,2390.7 L1265.5,2406.2 L1274.5,2422.3 L1283.5,2439.2 L1292.5,2457.3 L1301.5,2476.8 L1310.5,2497.7 L1319.5,2520.1 L1328.5,2544.4 L1337.5,2570.9 L1346.5,2600.6 L1355.5,2632.7 L1364.5,2666.3 L1373.5,2700.4 L1382.5,2735.8 L1391.5,2772.5 L1400.5,2810.4 L1405.8,2833.0 L1441.5,2998.0 L1478.1,3009.0 L1513.2,3019.0 L1552.5,3015.2 L1586.8,3045.0 L1622.7,3058.5 L1658.8,3071.0 L1694.0,3082.5 L1731.8,3086.8 L1767.5,3048.8 L1803.7,3096.0 L1840.8,3061.0 L1876.0,2976.0" fill="none" stroke="#000" stroke-width="5.6" stroke-linejoin="miter" stroke-linecap="butt"/>
<path d="M608.5,2057.0 L617.5,2073.4 L626.5,2089.6 L635.5,2105.7 L644.5,2121.8 L653.5,2137.6 L662.5,2153.4 L671.5,2169.0 L680.5,2184.5 L689.5,2199.8 L698.5,2215.0 L707.5,2230.0 L716.5,2244.8 L725.5,2259.4 L734.5,2273.8 L743.5,2288.1 L752.5,2302.4 L761.5,2316.6 L770.5,2330.8 L779.5,2345.1 L788.5,2359.5 L797.5,2374.0 L806.5,2388.6 L815.5,2403.3 L824.5,2418.1 L833.5,2432.9 L842.5,2447.8 L851.5,2462.7 L860.5,2477.5 L869.5,2492.4 L878.5,2507.1 L887.5,2521.8 L896.5,2536.4 L905.5,2550.8 L914.5,2565.3 L923.5,2579.7 L932.5,2594.1 L941.5,2608.4 L950.5,2622.7 L959.5,2636.9 L968.5,2651.0 L977.5,2665.0 L986.5,2678.9 L995.5,2692.7 L1004.5,2706.3 L1013.5,2719.8 L1022.5,2733.1 L1031.5,2746.3 L1040.5,2759.5 L1049.5,2772.5 L1058.5,2785.5 L1067.5,2798.5 L1076.5,2811.4 L1085.5,2824.3 L1094.5,2837.3 L1103.5,2850.3 L1112.5,2863.3 L1121.5,2876.5 L1130.5,2889.7 L1139.5,2902.8 L1148.5,2915.8 L1157.5,2928.6 L1166.5,2941.2 L1175.5,2953.5 L1184.5,2965.4 L1193.5,2976.8 L1202.5,2988.0 L1211.5,2999.2 L1220.5,3010.6 L1229.5,3022.4 L1238.5,3034.3 L1247.5,3045.9 L1256.5,3056.9 L1265.5,3067.6 L1274.5,3078.1 L1283.5,3088.0 L1292.5,3097.2 L1301.5,3105.6 L1310.5,3113.4 L1319.5,3120.9 L1328.5,3128.1 L1337.5,3135.4 L1346.5,3142.6 L1355.5,3149.4 L1364.5,3155.3 L1373.5,3160.2 L1382.5,3164.8 L1391.5,3168.9 L1400.5,3172.1 L1409.5,3174.6 L1418.5,3176.9 L1427.5,3178.8 L1436.5,3180.0 L1445.5,3180.4 L1454.5,3180.6 L1463.5,3180.7 L1472.5,3180.8 L1481.5,3180.9 L1490.5,3180.9 L1499.5,3181.0 L1508.5,3181.1 L1517.5,3181.1 L1526.5,3181.2 L1535.5,3181.2 L1544.5,3181.3 L1550.4,3181.3 L1695.0,3183.5 L1731.2,3183.5 L1767.3,3181.5 L1803.5,3182.5 L1839.6,3181.5 L1877.5,3180.5" fill="none" stroke="#000" stroke-width="5.6" stroke-linejoin="round" stroke-linecap="butt"/>
<polygon points="435.4,2020.8 508,1984 508,2058" fill="#000"/>
<line x1="500.0" y1="2020.8" x2="748.0" y2="2020.8" stroke="#000" stroke-width="6.2" stroke-linecap="butt"/>
<line x1="1831.8" y1="3181.5" x2="2000.0" y2="3044.0" stroke="#000" stroke-width="6.2" stroke-linecap="butt"/>
<polygon points="2054,3000.5 1974,3017.7 2019.7,3074.3" fill="#000"/>
<text transform="translate(386.0,3195.7) scale(1.0,1.0)" font-size="55.5" text-anchor="end" class="lt">1x10<tspan font-size="36" dy="-22.5">-10</tspan></text>
<text transform="translate(386.0,2970.6) scale(1.0,1.0)" font-size="55.5" text-anchor="end" class="lt">1x10<tspan font-size="36" dy="-22.5">-9</tspan></text>
<text transform="translate(386.0,2745.5) scale(1.0,1.0)" font-size="55.5" text-anchor="end" class="lt">1x10<tspan font-size="36" dy="-22.5">-8</tspan></text>
<text transform="translate(386.0,2520.4) scale(1.0,1.0)" font-size="55.5" text-anchor="end" class="lt">1x10<tspan font-size="36" dy="-22.5">-7</tspan></text>
<text transform="translate(386.0,2295.3) scale(1.0,1.0)" font-size="55.5" text-anchor="end" class="lt">1x10<tspan font-size="36" dy="-22.5">-6</tspan></text>
<text transform="translate(386.0,2070.2) scale(1.0,1.0)" font-size="55.5" text-anchor="end" class="lt">1x10<tspan font-size="36" dy="-22.5">-5</tspan></text>
<text transform="translate(2101.0,3205.0) scale(1.0,1.0)" font-size="55.5" text-anchor="start" class="lt">0</text>
<text transform="translate(2102.0,2969.0) scale(1.0,1.0)" font-size="55.5" text-anchor="start" class="lt">1x10<tspan font-size="36" dy="-22.5">-3</tspan></text>
<text transform="translate(2102.0,2730.5) scale(1.0,1.0)" font-size="55.5" text-anchor="start" class="lt">2x10<tspan font-size="36" dy="-22.5">-3</tspan></text>
<text transform="translate(2102.0,2492.0) scale(1.0,1.0)" font-size="55.5" text-anchor="start" class="lt">3x10<tspan font-size="36" dy="-22.5">-3</tspan></text>
<text transform="translate(2102.0,2253.5) scale(1.0,1.0)" font-size="55.5" text-anchor="start" class="lt">4x10<tspan font-size="36" dy="-22.5">-3</tspan></text>
<text transform="translate(2102.0,2015.0) scale(1.0,1.0)" font-size="55.5" text-anchor="start" class="lt">5x10<tspan font-size="36" dy="-22.5">-3</tspan></text>
<text transform="translate(430.0,3275.0) scale(1.0,1.0)" font-size="55.5" text-anchor="middle" class="lt">-70</text>
<text transform="translate(610.8,3275.0) scale(1.0,1.0)" font-size="55.5" text-anchor="middle" class="lt">-60</text>
<text transform="translate(791.6,3275.0) scale(1.0,1.0)" font-size="55.5" text-anchor="middle" class="lt">-50</text>
<text transform="translate(972.4,3275.0) scale(1.0,1.0)" font-size="55.5" text-anchor="middle" class="lt">-40</text>
<text transform="translate(1153.2,3275.0) scale(1.0,1.0)" font-size="55.5" text-anchor="middle" class="lt">-30</text>
<text transform="translate(1333.9,3275.0) scale(1.0,1.0)" font-size="55.5" text-anchor="middle" class="lt">-20</text>
<text transform="translate(1514.7,3275.0) scale(1.0,1.0)" font-size="55.5" text-anchor="middle" class="lt">-10</text>
<text transform="translate(1696.0,3275.0) scale(1.0,1.0)" font-size="55.5" text-anchor="middle" class="lt">0</text>
<text transform="translate(1876.8,3275.0) scale(1.0,1.0)" font-size="55.5" text-anchor="middle" class="lt">10</text>
<text transform="translate(2057.6,3275.0) scale(1.0,1.0)" font-size="55.5" text-anchor="middle" class="lt">20</text>
<text transform="translate(1136.0,3384.5) scale(1.017,1.03)" font-size="68" text-anchor="start" >V<tspan font-size="46" dy="17.5">GS</tspan><tspan font-size="68" dy="-17.5"> [V]</tspan></text>
<text transform="translate(155.5,2625.0) rotate(-90) scale(1.017,1.04)" font-size="68" text-anchor="start" >I<tspan font-size="46" dy="17.5">DS</tspan><tspan font-size="68" dy="-17.5"> [A]</tspan></text>
<text transform="translate(2338.5,2689.5) rotate(-90) scale(1.017,1.04)" font-size="68" text-anchor="start" >I<tspan font-size="46" dy="17.5">DS</tspan><tspan font-size="46" dy="-44">1/2</tspan><tspan font-size="68" dy="26.5"> [A</tspan><tspan font-size="46" dy="-26.5">1/2</tspan><tspan font-size="68" dy="26.5">]</tspan></text>
<text transform="translate(159.0,1905.8) scale(0.68,1.0)" font-size="113" text-anchor="start" style="stroke-width:2.2px">(</text>
<text transform="translate(194.5,1908.0) scale(1.0,0.98)" font-size="116" text-anchor="start" textLength="62" lengthAdjust="spacingAndGlyphs" style="stroke-width:1px">b</text>
<text transform="translate(265.9,1905.8) scale(0.68,1.0)" font-size="113" text-anchor="start" style="stroke-width:2.2px">)</text>
</g>
</g>
<g id="legend">
<rect x="1665.7" y="975.7" width="301" height="388.3" fill="#fff" stroke="#000" stroke-width="3"/>
<line x1="1673.0" y1="1017.3" x2="1813.0" y2="1017.3" stroke="#515151" stroke-width="6.0" stroke-linecap="butt"/>
<text transform="translate(1827.5,1036.1) scale(1.0,1.055)" font-size="62" text-anchor="start" style="stroke-width:0.3px">0V</text>
<line x1="1673.0" y1="1093.4" x2="1813.0" y2="1093.4" stroke="#F14040" stroke-width="6.0" stroke-linecap="butt"/>
<text transform="translate(1826.5,1112.2) scale(1.0,1.055)" font-size="62" text-anchor="start" style="stroke-width:0.3px">-30V</text>
<line x1="1673.0" y1="1169.5" x2="1813.0" y2="1169.5" stroke="#1A6FDF" stroke-width="6.0" stroke-linecap="butt"/>
<text transform="translate(1826.5,1188.3) scale(1.0,1.055)" font-size="62" text-anchor="start" style="stroke-width:0.3px">-40V</text>
<line x1="1673.0" y1="1245.6" x2="1813.0" y2="1245.6" stroke="#37AD6B" stroke-width="6.0" stroke-linecap="butt"/>
<text transform="translate(1826.5,1264.4) scale(1.0,1.055)" font-size="62" text-anchor="start" style="stroke-width:0.3px">-50V</text>
<line x1="1673.0" y1="1321.7" x2="1813.0" y2="1321.7" stroke="#B177DE" stroke-width="6.0" stroke-linecap="butt"/>
<text transform="translate(1826.5,1340.5) scale(1.0,1.055)" font-size="62" text-anchor="start" style="stroke-width:0.3px">-60V</text>
</g>
</svg>
</body>
</html>
